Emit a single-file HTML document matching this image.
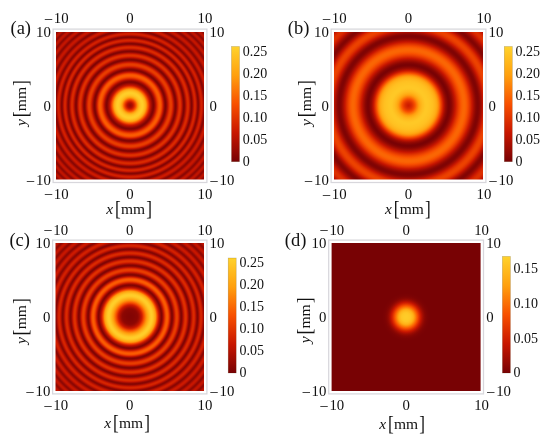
<!DOCTYPE html>
<html lang="en">
<head>
<meta charset="utf-8">
<title>Intensity distributions (a)-(d)</title>
<style>
html,body{margin:0;padding:0;background:#fff;}
body{width:550px;height:442px;overflow:hidden;}
svg{display:block;}
svg text{font-family:"Liberation Serif","Times New Roman",serif;fill:#111;}
</style>
</head>
<body>
<svg width="550" height="442" viewBox="0 0 550 442">
<defs>
<filter id="soft" color-interpolation-filters="sRGB" x="-5%" y="-5%" width="110%" height="110%"><feGaussianBlur stdDeviation="0.55"/></filter>
<radialGradient id="ga" gradientUnits="userSpaceOnUse" cx="130.00" cy="105.40" r="110.00"><stop offset="0.0000" stop-color="#980a02"/><stop offset="0.0045" stop-color="#990a02"/><stop offset="0.0091" stop-color="#9d0b02"/><stop offset="0.0136" stop-color="#a20d02"/><stop offset="0.0182" stop-color="#a80e02"/><stop offset="0.0227" stop-color="#b01001"/><stop offset="0.0273" stop-color="#bc1301"/><stop offset="0.0318" stop-color="#c91700"/><stop offset="0.0364" stop-color="#d22200"/><stop offset="0.0409" stop-color="#db2d00"/><stop offset="0.0455" stop-color="#e53a00"/><stop offset="0.0500" stop-color="#f14700"/><stop offset="0.0545" stop-color="#f95601"/><stop offset="0.0591" stop-color="#fa6a05"/><stop offset="0.0636" stop-color="#fc7e08"/><stop offset="0.0682" stop-color="#fe920c"/><stop offset="0.0727" stop-color="#ffa20f"/><stop offset="0.0773" stop-color="#ffac15"/><stop offset="0.0818" stop-color="#ffb51a"/><stop offset="0.0864" stop-color="#ffbd1f"/><stop offset="0.0909" stop-color="#ffc222"/><stop offset="0.0955" stop-color="#ffc625"/><stop offset="0.1000" stop-color="#ffc927"/><stop offset="0.1045" stop-color="#ffcc28"/><stop offset="0.1091" stop-color="#ffce29"/><stop offset="0.1136" stop-color="#ffce29"/><stop offset="0.1182" stop-color="#ffcc28"/><stop offset="0.1227" stop-color="#ffc826"/><stop offset="0.1273" stop-color="#ffc323"/><stop offset="0.1318" stop-color="#ffbd1f"/><stop offset="0.1364" stop-color="#ffb71c"/><stop offset="0.1409" stop-color="#ffaf17"/><stop offset="0.1455" stop-color="#ffa511"/><stop offset="0.1500" stop-color="#fe940c"/><stop offset="0.1545" stop-color="#fc7e08"/><stop offset="0.1591" stop-color="#fa6804"/><stop offset="0.1636" stop-color="#f85401"/><stop offset="0.1682" stop-color="#ed4300"/><stop offset="0.1727" stop-color="#df3200"/><stop offset="0.1773" stop-color="#d32300"/><stop offset="0.1818" stop-color="#c81600"/><stop offset="0.1864" stop-color="#b91201"/><stop offset="0.1909" stop-color="#ac0f01"/><stop offset="0.1955" stop-color="#9f0c02"/><stop offset="0.2000" stop-color="#940903"/><stop offset="0.2045" stop-color="#8a0603"/><stop offset="0.2091" stop-color="#820503"/><stop offset="0.2136" stop-color="#7f0404"/><stop offset="0.2182" stop-color="#860603"/><stop offset="0.2227" stop-color="#910803"/><stop offset="0.2273" stop-color="#a00c02"/><stop offset="0.2318" stop-color="#b01001"/><stop offset="0.2364" stop-color="#c31500"/><stop offset="0.2409" stop-color="#d02000"/><stop offset="0.2455" stop-color="#db2d00"/><stop offset="0.2500" stop-color="#e53900"/><stop offset="0.2545" stop-color="#ee4400"/><stop offset="0.2591" stop-color="#f64d00"/><stop offset="0.2636" stop-color="#f85501"/><stop offset="0.2682" stop-color="#f95b02"/><stop offset="0.2727" stop-color="#f95d02"/><stop offset="0.2773" stop-color="#f95a02"/><stop offset="0.2818" stop-color="#f85100"/><stop offset="0.2864" stop-color="#f14700"/><stop offset="0.2909" stop-color="#e63a00"/><stop offset="0.2955" stop-color="#d92b00"/><stop offset="0.3000" stop-color="#cc1b00"/><stop offset="0.3045" stop-color="#b81201"/><stop offset="0.3091" stop-color="#a20d02"/><stop offset="0.3136" stop-color="#910803"/><stop offset="0.3182" stop-color="#840503"/><stop offset="0.3227" stop-color="#7e0404"/><stop offset="0.3273" stop-color="#840503"/><stop offset="0.3318" stop-color="#8f0803"/><stop offset="0.3364" stop-color="#9e0b02"/><stop offset="0.3409" stop-color="#ae1001"/><stop offset="0.3455" stop-color="#c01400"/><stop offset="0.3500" stop-color="#ce1d00"/><stop offset="0.3545" stop-color="#d72800"/><stop offset="0.3591" stop-color="#df3200"/><stop offset="0.3636" stop-color="#e53900"/><stop offset="0.3682" stop-color="#e83d00"/><stop offset="0.3727" stop-color="#e83d00"/><stop offset="0.3773" stop-color="#e63a00"/><stop offset="0.3818" stop-color="#df3200"/><stop offset="0.3864" stop-color="#d72800"/><stop offset="0.3909" stop-color="#cc1a00"/><stop offset="0.3955" stop-color="#ba1301"/><stop offset="0.4000" stop-color="#a60e02"/><stop offset="0.4045" stop-color="#940903"/><stop offset="0.4091" stop-color="#860603"/><stop offset="0.4136" stop-color="#7f0404"/><stop offset="0.4182" stop-color="#830503"/><stop offset="0.4227" stop-color="#8e0803"/><stop offset="0.4273" stop-color="#9f0c02"/><stop offset="0.4318" stop-color="#b21001"/><stop offset="0.4364" stop-color="#c51500"/><stop offset="0.4409" stop-color="#d02000"/><stop offset="0.4455" stop-color="#d82a00"/><stop offset="0.4500" stop-color="#dd3000"/><stop offset="0.4545" stop-color="#df3200"/><stop offset="0.4591" stop-color="#dd2f00"/><stop offset="0.4636" stop-color="#d62700"/><stop offset="0.4682" stop-color="#cd1c00"/><stop offset="0.4727" stop-color="#bc1301"/><stop offset="0.4773" stop-color="#a70e02"/><stop offset="0.4818" stop-color="#940903"/><stop offset="0.4864" stop-color="#850503"/><stop offset="0.4909" stop-color="#7e0404"/><stop offset="0.4955" stop-color="#850503"/><stop offset="0.5000" stop-color="#930903"/><stop offset="0.5045" stop-color="#a50d02"/><stop offset="0.5091" stop-color="#b81201"/><stop offset="0.5136" stop-color="#c91800"/><stop offset="0.5182" stop-color="#d22200"/><stop offset="0.5227" stop-color="#d82900"/><stop offset="0.5273" stop-color="#d92b00"/><stop offset="0.5318" stop-color="#d72800"/><stop offset="0.5364" stop-color="#d01f00"/><stop offset="0.5409" stop-color="#c41500"/><stop offset="0.5455" stop-color="#b01001"/><stop offset="0.5500" stop-color="#9c0b02"/><stop offset="0.5545" stop-color="#8b0703"/><stop offset="0.5591" stop-color="#810404"/><stop offset="0.5636" stop-color="#840503"/><stop offset="0.5682" stop-color="#930903"/><stop offset="0.5727" stop-color="#a60e02"/><stop offset="0.5773" stop-color="#bb1301"/><stop offset="0.5818" stop-color="#cb1a00"/><stop offset="0.5864" stop-color="#d32300"/><stop offset="0.5909" stop-color="#d52600"/><stop offset="0.5955" stop-color="#d32300"/><stop offset="0.6000" stop-color="#cb1900"/><stop offset="0.6045" stop-color="#ba1201"/><stop offset="0.6091" stop-color="#a40d02"/><stop offset="0.6136" stop-color="#910803"/><stop offset="0.6182" stop-color="#840503"/><stop offset="0.6227" stop-color="#860503"/><stop offset="0.6273" stop-color="#920903"/><stop offset="0.6318" stop-color="#a40d02"/><stop offset="0.6364" stop-color="#b71201"/><stop offset="0.6409" stop-color="#c81600"/><stop offset="0.6455" stop-color="#cf1e00"/><stop offset="0.6500" stop-color="#d22200"/><stop offset="0.6545" stop-color="#cf1f00"/><stop offset="0.6591" stop-color="#c81600"/><stop offset="0.6636" stop-color="#b71201"/><stop offset="0.6682" stop-color="#a40d02"/><stop offset="0.6727" stop-color="#920903"/><stop offset="0.6773" stop-color="#870603"/><stop offset="0.6818" stop-color="#880603"/><stop offset="0.6864" stop-color="#930903"/><stop offset="0.6909" stop-color="#a30d02"/><stop offset="0.6955" stop-color="#b31101"/><stop offset="0.7000" stop-color="#c21400"/><stop offset="0.7045" stop-color="#ca1800"/><stop offset="0.7091" stop-color="#cc1b00"/><stop offset="0.7136" stop-color="#c91800"/><stop offset="0.7182" stop-color="#bf1400"/><stop offset="0.7227" stop-color="#b01001"/><stop offset="0.7273" stop-color="#9f0c02"/><stop offset="0.7318" stop-color="#910803"/><stop offset="0.7364" stop-color="#880603"/><stop offset="0.7409" stop-color="#8c0703"/><stop offset="0.7455" stop-color="#960a02"/><stop offset="0.7500" stop-color="#a50d02"/><stop offset="0.7545" stop-color="#b31101"/><stop offset="0.7591" stop-color="#bf1400"/><stop offset="0.7636" stop-color="#c61600"/><stop offset="0.7682" stop-color="#c81600"/><stop offset="0.7727" stop-color="#c31500"/><stop offset="0.7773" stop-color="#b81201"/><stop offset="0.7818" stop-color="#aa0f01"/><stop offset="0.7864" stop-color="#9c0b02"/><stop offset="0.7909" stop-color="#900803"/><stop offset="0.7955" stop-color="#8a0703"/><stop offset="0.8000" stop-color="#900803"/><stop offset="0.8045" stop-color="#9d0b02"/><stop offset="0.8091" stop-color="#ac0f01"/><stop offset="0.8136" stop-color="#ba1201"/><stop offset="0.8182" stop-color="#c31500"/><stop offset="0.8227" stop-color="#c51500"/><stop offset="0.8273" stop-color="#bf1400"/><stop offset="0.8318" stop-color="#b41101"/><stop offset="0.8364" stop-color="#a60d02"/><stop offset="0.8409" stop-color="#970a02"/><stop offset="0.8455" stop-color="#8e0703"/><stop offset="0.8500" stop-color="#8f0803"/><stop offset="0.8545" stop-color="#9a0b02"/><stop offset="0.8591" stop-color="#a90e02"/><stop offset="0.8636" stop-color="#b61201"/><stop offset="0.8682" stop-color="#bf1400"/><stop offset="0.8727" stop-color="#c11400"/><stop offset="0.8773" stop-color="#bc1301"/><stop offset="0.8818" stop-color="#b01001"/><stop offset="0.8864" stop-color="#a20c02"/><stop offset="0.8909" stop-color="#950903"/><stop offset="0.8955" stop-color="#8e0803"/><stop offset="0.9000" stop-color="#950903"/><stop offset="0.9045" stop-color="#a20d02"/><stop offset="0.9091" stop-color="#b01001"/><stop offset="0.9136" stop-color="#bb1301"/><stop offset="0.9182" stop-color="#be1400"/><stop offset="0.9227" stop-color="#ba1201"/><stop offset="0.9273" stop-color="#ae1001"/><stop offset="0.9318" stop-color="#a00c02"/><stop offset="0.9364" stop-color="#930903"/><stop offset="0.9409" stop-color="#8f0803"/><stop offset="0.9455" stop-color="#980a02"/><stop offset="0.9500" stop-color="#a60d02"/><stop offset="0.9545" stop-color="#b41101"/><stop offset="0.9591" stop-color="#bd1301"/><stop offset="0.9636" stop-color="#be1301"/><stop offset="0.9682" stop-color="#b61201"/><stop offset="0.9727" stop-color="#a90e02"/><stop offset="0.9773" stop-color="#9a0a02"/><stop offset="0.9818" stop-color="#900803"/><stop offset="0.9864" stop-color="#920803"/><stop offset="0.9909" stop-color="#9e0c02"/><stop offset="0.9955" stop-color="#ad0f01"/><stop offset="1.0000" stop-color="#b91201"/></radialGradient>
<linearGradient id="cba" gradientUnits="userSpaceOnUse" x1="0" y1="46.50" x2="0" y2="161.70"><stop offset="0.0000" stop-color="#ffd22c"/><stop offset="0.0417" stop-color="#ffca27"/><stop offset="0.0833" stop-color="#ffc122"/><stop offset="0.1250" stop-color="#ffb91d"/><stop offset="0.1667" stop-color="#ffb118"/><stop offset="0.2083" stop-color="#ffa813"/><stop offset="0.2500" stop-color="#ffa00e"/><stop offset="0.2917" stop-color="#fe930c"/><stop offset="0.3333" stop-color="#fd8509"/><stop offset="0.3750" stop-color="#fc7807"/><stop offset="0.4167" stop-color="#fa6b05"/><stop offset="0.4583" stop-color="#f95d02"/><stop offset="0.5000" stop-color="#f85000"/><stop offset="0.5417" stop-color="#f04600"/><stop offset="0.5833" stop-color="#e83d00"/><stop offset="0.6250" stop-color="#e03300"/><stop offset="0.6667" stop-color="#d82900"/><stop offset="0.7083" stop-color="#d02000"/><stop offset="0.7500" stop-color="#c81600"/><stop offset="0.7917" stop-color="#bb1301"/><stop offset="0.8333" stop-color="#ad0f01"/><stop offset="0.8750" stop-color="#a00c02"/><stop offset="0.9167" stop-color="#930903"/><stop offset="0.9583" stop-color="#850503"/><stop offset="1.0000" stop-color="#780204"/></linearGradient>
<radialGradient id="gb" gradientUnits="userSpaceOnUse" cx="408.50" cy="105.40" r="110.00"><stop offset="0.0000" stop-color="#cc1b00"/><stop offset="0.0045" stop-color="#cd1c00"/><stop offset="0.0091" stop-color="#cf1e00"/><stop offset="0.0136" stop-color="#d12100"/><stop offset="0.0182" stop-color="#d42400"/><stop offset="0.0227" stop-color="#d62700"/><stop offset="0.0273" stop-color="#d92b00"/><stop offset="0.0318" stop-color="#dd2f00"/><stop offset="0.0364" stop-color="#e13400"/><stop offset="0.0409" stop-color="#e53900"/><stop offset="0.0455" stop-color="#ea3f00"/><stop offset="0.0500" stop-color="#ef4500"/><stop offset="0.0545" stop-color="#f44b00"/><stop offset="0.0591" stop-color="#f85301"/><stop offset="0.0636" stop-color="#f95d02"/><stop offset="0.0682" stop-color="#fa6804"/><stop offset="0.0727" stop-color="#fb7306"/><stop offset="0.0773" stop-color="#fc7d08"/><stop offset="0.0818" stop-color="#fd860a"/><stop offset="0.0864" stop-color="#fe900b"/><stop offset="0.0909" stop-color="#fe990d"/><stop offset="0.0955" stop-color="#ffa10f"/><stop offset="0.1000" stop-color="#ffa612"/><stop offset="0.1045" stop-color="#ffaa14"/><stop offset="0.1091" stop-color="#ffaf17"/><stop offset="0.1136" stop-color="#ffb319"/><stop offset="0.1182" stop-color="#ffb61b"/><stop offset="0.1227" stop-color="#ffb91d"/><stop offset="0.1273" stop-color="#ffbc1f"/><stop offset="0.1318" stop-color="#ffbe20"/><stop offset="0.1364" stop-color="#ffc021"/><stop offset="0.1409" stop-color="#ffc223"/><stop offset="0.1455" stop-color="#ffc424"/><stop offset="0.1500" stop-color="#ffc625"/><stop offset="0.1545" stop-color="#ffc725"/><stop offset="0.1591" stop-color="#ffc826"/><stop offset="0.1636" stop-color="#ffc826"/><stop offset="0.1682" stop-color="#ffc826"/><stop offset="0.1727" stop-color="#ffc826"/><stop offset="0.1773" stop-color="#ffc726"/><stop offset="0.1818" stop-color="#ffc725"/><stop offset="0.1864" stop-color="#ffc625"/><stop offset="0.1909" stop-color="#ffc524"/><stop offset="0.1955" stop-color="#ffc524"/><stop offset="0.2000" stop-color="#ffc423"/><stop offset="0.2045" stop-color="#ffc323"/><stop offset="0.2091" stop-color="#ffc222"/><stop offset="0.2136" stop-color="#ffc122"/><stop offset="0.2182" stop-color="#ffc021"/><stop offset="0.2227" stop-color="#ffbe20"/><stop offset="0.2273" stop-color="#ffbc1f"/><stop offset="0.2318" stop-color="#ffba1e"/><stop offset="0.2364" stop-color="#ffb71c"/><stop offset="0.2409" stop-color="#ffb51b"/><stop offset="0.2455" stop-color="#ffb219"/><stop offset="0.2500" stop-color="#ffae17"/><stop offset="0.2545" stop-color="#ffaa14"/><stop offset="0.2591" stop-color="#ffa511"/><stop offset="0.2636" stop-color="#ff9e0e"/><stop offset="0.2682" stop-color="#fe940c"/><stop offset="0.2727" stop-color="#fd8a0a"/><stop offset="0.2773" stop-color="#fc7e08"/><stop offset="0.2818" stop-color="#fb7006"/><stop offset="0.2864" stop-color="#f96103"/><stop offset="0.2909" stop-color="#f85200"/><stop offset="0.2955" stop-color="#f04700"/><stop offset="0.3000" stop-color="#e83c00"/><stop offset="0.3045" stop-color="#df3200"/><stop offset="0.3091" stop-color="#d62700"/><stop offset="0.3136" stop-color="#ce1d00"/><stop offset="0.3182" stop-color="#c51500"/><stop offset="0.3227" stop-color="#b91201"/><stop offset="0.3273" stop-color="#ad0f01"/><stop offset="0.3318" stop-color="#a30d02"/><stop offset="0.3364" stop-color="#990a02"/><stop offset="0.3409" stop-color="#920803"/><stop offset="0.3455" stop-color="#8b0703"/><stop offset="0.3500" stop-color="#860503"/><stop offset="0.3545" stop-color="#800404"/><stop offset="0.3591" stop-color="#7c0304"/><stop offset="0.3636" stop-color="#790204"/><stop offset="0.3682" stop-color="#780204"/><stop offset="0.3727" stop-color="#7a0204"/><stop offset="0.3773" stop-color="#7c0304"/><stop offset="0.3818" stop-color="#800404"/><stop offset="0.3864" stop-color="#840503"/><stop offset="0.3909" stop-color="#8a0603"/><stop offset="0.3955" stop-color="#900803"/><stop offset="0.4000" stop-color="#970a02"/><stop offset="0.4045" stop-color="#9e0c02"/><stop offset="0.4091" stop-color="#a60e02"/><stop offset="0.4136" stop-color="#af1001"/><stop offset="0.4182" stop-color="#b71201"/><stop offset="0.4227" stop-color="#c01400"/><stop offset="0.4273" stop-color="#c91700"/><stop offset="0.4318" stop-color="#ce1e00"/><stop offset="0.4364" stop-color="#d42400"/><stop offset="0.4409" stop-color="#d92b00"/><stop offset="0.4455" stop-color="#de3100"/><stop offset="0.4500" stop-color="#e43700"/><stop offset="0.4545" stop-color="#e83d00"/><stop offset="0.4591" stop-color="#ed4300"/><stop offset="0.4636" stop-color="#f14800"/><stop offset="0.4682" stop-color="#f54d00"/><stop offset="0.4727" stop-color="#f85200"/><stop offset="0.4773" stop-color="#f95701"/><stop offset="0.4818" stop-color="#f95c02"/><stop offset="0.4864" stop-color="#f95f03"/><stop offset="0.4909" stop-color="#fa6203"/><stop offset="0.4955" stop-color="#fa6504"/><stop offset="0.5000" stop-color="#fa6604"/><stop offset="0.5045" stop-color="#fa6604"/><stop offset="0.5091" stop-color="#fa6604"/><stop offset="0.5136" stop-color="#fa6404"/><stop offset="0.5182" stop-color="#fa6203"/><stop offset="0.5227" stop-color="#f95e03"/><stop offset="0.5273" stop-color="#f95a02"/><stop offset="0.5318" stop-color="#f85501"/><stop offset="0.5364" stop-color="#f74f00"/><stop offset="0.5409" stop-color="#f34a00"/><stop offset="0.5455" stop-color="#ee4400"/><stop offset="0.5500" stop-color="#e93e00"/><stop offset="0.5545" stop-color="#e43800"/><stop offset="0.5591" stop-color="#df3100"/><stop offset="0.5636" stop-color="#d92b00"/><stop offset="0.5682" stop-color="#d32400"/><stop offset="0.5727" stop-color="#cd1d00"/><stop offset="0.5773" stop-color="#c71600"/><stop offset="0.5818" stop-color="#be1301"/><stop offset="0.5864" stop-color="#b51101"/><stop offset="0.5909" stop-color="#ac0f01"/><stop offset="0.5955" stop-color="#a30d02"/><stop offset="0.6000" stop-color="#9b0b02"/><stop offset="0.6045" stop-color="#940903"/><stop offset="0.6091" stop-color="#8e0703"/><stop offset="0.6136" stop-color="#880603"/><stop offset="0.6182" stop-color="#840503"/><stop offset="0.6227" stop-color="#810404"/><stop offset="0.6273" stop-color="#7f0404"/><stop offset="0.6318" stop-color="#7f0404"/><stop offset="0.6364" stop-color="#810404"/><stop offset="0.6409" stop-color="#840503"/><stop offset="0.6455" stop-color="#890603"/><stop offset="0.6500" stop-color="#8f0803"/><stop offset="0.6545" stop-color="#970a02"/><stop offset="0.6591" stop-color="#9f0c02"/><stop offset="0.6636" stop-color="#a70e02"/><stop offset="0.6682" stop-color="#b11001"/><stop offset="0.6727" stop-color="#ba1301"/><stop offset="0.6773" stop-color="#c41500"/><stop offset="0.6818" stop-color="#cb1a00"/><stop offset="0.6864" stop-color="#d12000"/><stop offset="0.6909" stop-color="#d62700"/><stop offset="0.6955" stop-color="#db2d00"/><stop offset="0.7000" stop-color="#df3200"/><stop offset="0.7045" stop-color="#e33700"/><stop offset="0.7091" stop-color="#e63b00"/><stop offset="0.7136" stop-color="#e93e00"/><stop offset="0.7182" stop-color="#eb4000"/><stop offset="0.7227" stop-color="#ec4200"/><stop offset="0.7273" stop-color="#ec4200"/><stop offset="0.7318" stop-color="#ec4200"/><stop offset="0.7364" stop-color="#eb4000"/><stop offset="0.7409" stop-color="#e93d00"/><stop offset="0.7455" stop-color="#e63a00"/><stop offset="0.7500" stop-color="#e23500"/><stop offset="0.7545" stop-color="#de3000"/><stop offset="0.7591" stop-color="#d92a00"/><stop offset="0.7636" stop-color="#d42400"/><stop offset="0.7682" stop-color="#ce1d00"/><stop offset="0.7727" stop-color="#c81600"/><stop offset="0.7773" stop-color="#be1301"/><stop offset="0.7818" stop-color="#b41101"/><stop offset="0.7864" stop-color="#aa0f01"/><stop offset="0.7909" stop-color="#a10c02"/><stop offset="0.7955" stop-color="#990a02"/><stop offset="0.8000" stop-color="#910803"/><stop offset="0.8045" stop-color="#8b0703"/><stop offset="0.8091" stop-color="#860603"/><stop offset="0.8136" stop-color="#830503"/><stop offset="0.8182" stop-color="#820404"/><stop offset="0.8227" stop-color="#830503"/><stop offset="0.8273" stop-color="#860503"/><stop offset="0.8318" stop-color="#8a0703"/><stop offset="0.8364" stop-color="#900803"/><stop offset="0.8409" stop-color="#960a02"/><stop offset="0.8455" stop-color="#9d0b02"/><stop offset="0.8500" stop-color="#a50d02"/><stop offset="0.8545" stop-color="#ae0f01"/><stop offset="0.8591" stop-color="#b61101"/><stop offset="0.8636" stop-color="#be1400"/><stop offset="0.8682" stop-color="#c71600"/><stop offset="0.8727" stop-color="#cc1b00"/><stop offset="0.8773" stop-color="#d02000"/><stop offset="0.8818" stop-color="#d42400"/><stop offset="0.8864" stop-color="#d72800"/><stop offset="0.8909" stop-color="#da2b00"/><stop offset="0.8955" stop-color="#dc2e00"/><stop offset="0.9000" stop-color="#dd2f00"/><stop offset="0.9045" stop-color="#dd3000"/><stop offset="0.9091" stop-color="#dd2f00"/><stop offset="0.9136" stop-color="#db2d00"/><stop offset="0.9182" stop-color="#d92a00"/><stop offset="0.9227" stop-color="#d62600"/><stop offset="0.9273" stop-color="#d22200"/><stop offset="0.9318" stop-color="#cd1c00"/><stop offset="0.9364" stop-color="#c81600"/><stop offset="0.9409" stop-color="#bf1400"/><stop offset="0.9455" stop-color="#b51101"/><stop offset="0.9500" stop-color="#ac0f01"/><stop offset="0.9545" stop-color="#a30d02"/><stop offset="0.9591" stop-color="#9a0b02"/><stop offset="0.9636" stop-color="#920903"/><stop offset="0.9682" stop-color="#8c0703"/><stop offset="0.9727" stop-color="#870603"/><stop offset="0.9773" stop-color="#830503"/><stop offset="0.9818" stop-color="#820404"/><stop offset="0.9864" stop-color="#830503"/><stop offset="0.9909" stop-color="#860603"/><stop offset="0.9955" stop-color="#8b0703"/><stop offset="1.0000" stop-color="#910803"/></radialGradient>
<linearGradient id="cbb" gradientUnits="userSpaceOnUse" x1="0" y1="46.50" x2="0" y2="161.70"><stop offset="0.0000" stop-color="#ffd22c"/><stop offset="0.0417" stop-color="#ffca27"/><stop offset="0.0833" stop-color="#ffc122"/><stop offset="0.1250" stop-color="#ffb91d"/><stop offset="0.1667" stop-color="#ffb118"/><stop offset="0.2083" stop-color="#ffa813"/><stop offset="0.2500" stop-color="#ffa00e"/><stop offset="0.2917" stop-color="#fe930c"/><stop offset="0.3333" stop-color="#fd8509"/><stop offset="0.3750" stop-color="#fc7807"/><stop offset="0.4167" stop-color="#fa6b05"/><stop offset="0.4583" stop-color="#f95d02"/><stop offset="0.5000" stop-color="#f85000"/><stop offset="0.5417" stop-color="#f04600"/><stop offset="0.5833" stop-color="#e83d00"/><stop offset="0.6250" stop-color="#e03300"/><stop offset="0.6667" stop-color="#d82900"/><stop offset="0.7083" stop-color="#d02000"/><stop offset="0.7500" stop-color="#c81600"/><stop offset="0.7917" stop-color="#bb1301"/><stop offset="0.8333" stop-color="#ad0f01"/><stop offset="0.8750" stop-color="#a00c02"/><stop offset="0.9167" stop-color="#930903"/><stop offset="0.9583" stop-color="#850503"/><stop offset="1.0000" stop-color="#780204"/></linearGradient>
<radialGradient id="gc" gradientUnits="userSpaceOnUse" cx="130.10" cy="316.70" r="110.00"><stop offset="0.0000" stop-color="#820404"/><stop offset="0.0045" stop-color="#820404"/><stop offset="0.0091" stop-color="#820404"/><stop offset="0.0136" stop-color="#820503"/><stop offset="0.0182" stop-color="#820503"/><stop offset="0.0227" stop-color="#830503"/><stop offset="0.0273" stop-color="#830503"/><stop offset="0.0318" stop-color="#840503"/><stop offset="0.0364" stop-color="#850503"/><stop offset="0.0409" stop-color="#860503"/><stop offset="0.0455" stop-color="#870603"/><stop offset="0.0500" stop-color="#880603"/><stop offset="0.0545" stop-color="#890603"/><stop offset="0.0591" stop-color="#8a0603"/><stop offset="0.0636" stop-color="#8b0703"/><stop offset="0.0682" stop-color="#8d0703"/><stop offset="0.0727" stop-color="#910803"/><stop offset="0.0773" stop-color="#970a02"/><stop offset="0.0818" stop-color="#9d0b02"/><stop offset="0.0864" stop-color="#a50d02"/><stop offset="0.0909" stop-color="#ad0f01"/><stop offset="0.0955" stop-color="#b71201"/><stop offset="0.1000" stop-color="#c01400"/><stop offset="0.1045" stop-color="#c91700"/><stop offset="0.1091" stop-color="#d12100"/><stop offset="0.1136" stop-color="#da2c00"/><stop offset="0.1182" stop-color="#e43800"/><stop offset="0.1227" stop-color="#ef4500"/><stop offset="0.1273" stop-color="#f85000"/><stop offset="0.1318" stop-color="#f95f03"/><stop offset="0.1364" stop-color="#fb6e05"/><stop offset="0.1409" stop-color="#fc7c08"/><stop offset="0.1455" stop-color="#fd8a0a"/><stop offset="0.1500" stop-color="#fe960c"/><stop offset="0.1545" stop-color="#ffa10e"/><stop offset="0.1591" stop-color="#ffa813"/><stop offset="0.1636" stop-color="#ffaf17"/><stop offset="0.1682" stop-color="#ffb61b"/><stop offset="0.1727" stop-color="#ffbc1f"/><stop offset="0.1773" stop-color="#ffc223"/><stop offset="0.1818" stop-color="#ffc726"/><stop offset="0.1864" stop-color="#ffcb28"/><stop offset="0.1909" stop-color="#ffcd29"/><stop offset="0.1955" stop-color="#ffce2a"/><stop offset="0.2000" stop-color="#ffcd29"/><stop offset="0.2045" stop-color="#ffc927"/><stop offset="0.2091" stop-color="#ffc524"/><stop offset="0.2136" stop-color="#ffbf20"/><stop offset="0.2182" stop-color="#ffb81c"/><stop offset="0.2227" stop-color="#ffb017"/><stop offset="0.2273" stop-color="#ffa712"/><stop offset="0.2318" stop-color="#ff9d0d"/><stop offset="0.2364" stop-color="#fd8609"/><stop offset="0.2409" stop-color="#fa6a05"/><stop offset="0.2455" stop-color="#f85000"/><stop offset="0.2500" stop-color="#ea3f00"/><stop offset="0.2545" stop-color="#db2d00"/><stop offset="0.2591" stop-color="#ce1d00"/><stop offset="0.2636" stop-color="#be1400"/><stop offset="0.2682" stop-color="#ae0f01"/><stop offset="0.2727" stop-color="#9f0c02"/><stop offset="0.2773" stop-color="#910803"/><stop offset="0.2818" stop-color="#850503"/><stop offset="0.2864" stop-color="#7f0404"/><stop offset="0.2909" stop-color="#870603"/><stop offset="0.2955" stop-color="#960903"/><stop offset="0.3000" stop-color="#a80e02"/><stop offset="0.3045" stop-color="#bd1301"/><stop offset="0.3091" stop-color="#ce1e00"/><stop offset="0.3136" stop-color="#db2e00"/><stop offset="0.3182" stop-color="#e73c00"/><stop offset="0.3227" stop-color="#f14800"/><stop offset="0.3273" stop-color="#f85200"/><stop offset="0.3318" stop-color="#f95a02"/><stop offset="0.3364" stop-color="#f95d02"/><stop offset="0.3409" stop-color="#f95902"/><stop offset="0.3455" stop-color="#f74f00"/><stop offset="0.3500" stop-color="#ed4300"/><stop offset="0.3545" stop-color="#e13400"/><stop offset="0.3591" stop-color="#d22200"/><stop offset="0.3636" stop-color="#bf1400"/><stop offset="0.3682" stop-color="#a70e02"/><stop offset="0.3727" stop-color="#920903"/><stop offset="0.3773" stop-color="#840503"/><stop offset="0.3818" stop-color="#7f0404"/><stop offset="0.3864" stop-color="#860603"/><stop offset="0.3909" stop-color="#930903"/><stop offset="0.3955" stop-color="#a50d02"/><stop offset="0.4000" stop-color="#b81201"/><stop offset="0.4045" stop-color="#ca1900"/><stop offset="0.4091" stop-color="#d52600"/><stop offset="0.4136" stop-color="#de3100"/><stop offset="0.4182" stop-color="#e53900"/><stop offset="0.4227" stop-color="#e83d00"/><stop offset="0.4273" stop-color="#e83d00"/><stop offset="0.4318" stop-color="#e43800"/><stop offset="0.4364" stop-color="#dd2f00"/><stop offset="0.4409" stop-color="#d32300"/><stop offset="0.4455" stop-color="#c51500"/><stop offset="0.4500" stop-color="#af1001"/><stop offset="0.4545" stop-color="#9b0b02"/><stop offset="0.4591" stop-color="#8a0703"/><stop offset="0.4636" stop-color="#800404"/><stop offset="0.4682" stop-color="#810404"/><stop offset="0.4727" stop-color="#8c0703"/><stop offset="0.4773" stop-color="#9c0b02"/><stop offset="0.4818" stop-color="#ae1001"/><stop offset="0.4864" stop-color="#c11400"/><stop offset="0.4909" stop-color="#cf1e00"/><stop offset="0.4955" stop-color="#d72800"/><stop offset="0.5000" stop-color="#dd2f00"/><stop offset="0.5045" stop-color="#df3200"/><stop offset="0.5091" stop-color="#dd3000"/><stop offset="0.5136" stop-color="#d82900"/><stop offset="0.5182" stop-color="#cf1e00"/><stop offset="0.5227" stop-color="#c01400"/><stop offset="0.5273" stop-color="#ab0f01"/><stop offset="0.5318" stop-color="#980a02"/><stop offset="0.5364" stop-color="#880603"/><stop offset="0.5409" stop-color="#7f0404"/><stop offset="0.5455" stop-color="#830503"/><stop offset="0.5500" stop-color="#900803"/><stop offset="0.5545" stop-color="#a10c02"/><stop offset="0.5591" stop-color="#b31101"/><stop offset="0.5636" stop-color="#c61500"/><stop offset="0.5682" stop-color="#d01f00"/><stop offset="0.5727" stop-color="#d62700"/><stop offset="0.5773" stop-color="#d92b00"/><stop offset="0.5818" stop-color="#d82900"/><stop offset="0.5864" stop-color="#d32300"/><stop offset="0.5909" stop-color="#ca1900"/><stop offset="0.5955" stop-color="#b91201"/><stop offset="0.6000" stop-color="#a60d02"/><stop offset="0.6045" stop-color="#940903"/><stop offset="0.6091" stop-color="#870603"/><stop offset="0.6136" stop-color="#830503"/><stop offset="0.6182" stop-color="#8b0703"/><stop offset="0.6227" stop-color="#9b0b02"/><stop offset="0.6273" stop-color="#ad0f01"/><stop offset="0.6318" stop-color="#c01400"/><stop offset="0.6364" stop-color="#cc1b00"/><stop offset="0.6409" stop-color="#d32300"/><stop offset="0.6455" stop-color="#d52600"/><stop offset="0.6500" stop-color="#d32400"/><stop offset="0.6545" stop-color="#cd1c00"/><stop offset="0.6591" stop-color="#c11400"/><stop offset="0.6636" stop-color="#ae0f01"/><stop offset="0.6682" stop-color="#9b0b02"/><stop offset="0.6727" stop-color="#8c0703"/><stop offset="0.6773" stop-color="#850503"/><stop offset="0.6818" stop-color="#8b0703"/><stop offset="0.6864" stop-color="#980a02"/><stop offset="0.6909" stop-color="#a80e02"/><stop offset="0.6955" stop-color="#b81201"/><stop offset="0.7000" stop-color="#c71600"/><stop offset="0.7045" stop-color="#ce1d00"/><stop offset="0.7091" stop-color="#d12100"/><stop offset="0.7136" stop-color="#d12100"/><stop offset="0.7182" stop-color="#cc1b00"/><stop offset="0.7227" stop-color="#c21500"/><stop offset="0.7273" stop-color="#b21101"/><stop offset="0.7318" stop-color="#a10c02"/><stop offset="0.7364" stop-color="#930903"/><stop offset="0.7409" stop-color="#890603"/><stop offset="0.7455" stop-color="#8a0703"/><stop offset="0.7500" stop-color="#940903"/><stop offset="0.7545" stop-color="#a20d02"/><stop offset="0.7591" stop-color="#b21001"/><stop offset="0.7636" stop-color="#c01400"/><stop offset="0.7682" stop-color="#c91700"/><stop offset="0.7727" stop-color="#cc1b00"/><stop offset="0.7773" stop-color="#cb1900"/><stop offset="0.7818" stop-color="#c51500"/><stop offset="0.7864" stop-color="#b81201"/><stop offset="0.7909" stop-color="#a90e02"/><stop offset="0.7955" stop-color="#9a0a02"/><stop offset="0.8000" stop-color="#8f0803"/><stop offset="0.8045" stop-color="#8b0703"/><stop offset="0.8091" stop-color="#920903"/><stop offset="0.8136" stop-color="#9e0c02"/><stop offset="0.8182" stop-color="#ad0f01"/><stop offset="0.8227" stop-color="#ba1201"/><stop offset="0.8273" stop-color="#c41500"/><stop offset="0.8318" stop-color="#c81600"/><stop offset="0.8364" stop-color="#c61600"/><stop offset="0.8409" stop-color="#be1400"/><stop offset="0.8455" stop-color="#b21101"/><stop offset="0.8500" stop-color="#a40d02"/><stop offset="0.8545" stop-color="#970a02"/><stop offset="0.8591" stop-color="#8e0803"/><stop offset="0.8636" stop-color="#8f0803"/><stop offset="0.8682" stop-color="#990a02"/><stop offset="0.8727" stop-color="#a70e02"/><stop offset="0.8773" stop-color="#b41101"/><stop offset="0.8818" stop-color="#bf1400"/><stop offset="0.8864" stop-color="#c41500"/><stop offset="0.8909" stop-color="#c41500"/><stop offset="0.8955" stop-color="#bc1301"/><stop offset="0.9000" stop-color="#b11001"/><stop offset="0.9045" stop-color="#a30d02"/><stop offset="0.9091" stop-color="#960a02"/><stop offset="0.9136" stop-color="#8f0803"/><stop offset="0.9182" stop-color="#920903"/><stop offset="0.9227" stop-color="#9d0b02"/><stop offset="0.9273" stop-color="#aa0e02"/><stop offset="0.9318" stop-color="#b61101"/><stop offset="0.9364" stop-color="#bf1400"/><stop offset="0.9409" stop-color="#c21400"/><stop offset="0.9455" stop-color="#be1400"/><stop offset="0.9500" stop-color="#b51101"/><stop offset="0.9545" stop-color="#a80e02"/><stop offset="0.9591" stop-color="#9b0b02"/><stop offset="0.9636" stop-color="#910803"/><stop offset="0.9682" stop-color="#900803"/><stop offset="0.9727" stop-color="#980a02"/><stop offset="0.9773" stop-color="#a40d02"/><stop offset="0.9818" stop-color="#b11001"/><stop offset="0.9864" stop-color="#ba1301"/><stop offset="0.9909" stop-color="#be1400"/><stop offset="0.9955" stop-color="#bc1301"/><stop offset="1.0000" stop-color="#b41101"/></radialGradient>
<linearGradient id="cbc" gradientUnits="userSpaceOnUse" x1="0" y1="258.00" x2="0" y2="373.00"><stop offset="0.0000" stop-color="#ffd22c"/><stop offset="0.0417" stop-color="#ffca27"/><stop offset="0.0833" stop-color="#ffc122"/><stop offset="0.1250" stop-color="#ffb91d"/><stop offset="0.1667" stop-color="#ffb118"/><stop offset="0.2083" stop-color="#ffa813"/><stop offset="0.2500" stop-color="#ffa00e"/><stop offset="0.2917" stop-color="#fe930c"/><stop offset="0.3333" stop-color="#fd8509"/><stop offset="0.3750" stop-color="#fc7807"/><stop offset="0.4167" stop-color="#fa6b05"/><stop offset="0.4583" stop-color="#f95d02"/><stop offset="0.5000" stop-color="#f85000"/><stop offset="0.5417" stop-color="#f04600"/><stop offset="0.5833" stop-color="#e83d00"/><stop offset="0.6250" stop-color="#e03300"/><stop offset="0.6667" stop-color="#d82900"/><stop offset="0.7083" stop-color="#d02000"/><stop offset="0.7500" stop-color="#c81600"/><stop offset="0.7917" stop-color="#bb1301"/><stop offset="0.8333" stop-color="#ad0f01"/><stop offset="0.8750" stop-color="#a00c02"/><stop offset="0.9167" stop-color="#930903"/><stop offset="0.9583" stop-color="#850503"/><stop offset="1.0000" stop-color="#780204"/></linearGradient>
<radialGradient id="gd" gradientUnits="userSpaceOnUse" cx="406.10" cy="317.10" r="110.00"><stop offset="0.0000" stop-color="#ffcc28"/><stop offset="0.0045" stop-color="#ffcc28"/><stop offset="0.0091" stop-color="#ffcc28"/><stop offset="0.0136" stop-color="#ffcb28"/><stop offset="0.0182" stop-color="#ffcb28"/><stop offset="0.0227" stop-color="#ffca27"/><stop offset="0.0273" stop-color="#ffc927"/><stop offset="0.0318" stop-color="#ffc826"/><stop offset="0.0364" stop-color="#ffc725"/><stop offset="0.0409" stop-color="#ffc524"/><stop offset="0.0455" stop-color="#ffc222"/><stop offset="0.0500" stop-color="#ffbe20"/><stop offset="0.0545" stop-color="#ffbb1e"/><stop offset="0.0591" stop-color="#ffb71c"/><stop offset="0.0636" stop-color="#ffb219"/><stop offset="0.0682" stop-color="#ffac15"/><stop offset="0.0727" stop-color="#ffa410"/><stop offset="0.0773" stop-color="#fe990d"/><stop offset="0.0818" stop-color="#fd8d0b"/><stop offset="0.0864" stop-color="#fc8109"/><stop offset="0.0909" stop-color="#fb7506"/><stop offset="0.0955" stop-color="#fa6904"/><stop offset="0.1000" stop-color="#f95c02"/><stop offset="0.1045" stop-color="#f85000"/><stop offset="0.1091" stop-color="#f04700"/><stop offset="0.1136" stop-color="#e83d00"/><stop offset="0.1182" stop-color="#e13400"/><stop offset="0.1227" stop-color="#d92b00"/><stop offset="0.1273" stop-color="#d22300"/><stop offset="0.1318" stop-color="#cc1b00"/><stop offset="0.1364" stop-color="#c41500"/><stop offset="0.1409" stop-color="#ba1201"/><stop offset="0.1455" stop-color="#b01001"/><stop offset="0.1500" stop-color="#a70e02"/><stop offset="0.1545" stop-color="#9f0c02"/><stop offset="0.1591" stop-color="#980a02"/><stop offset="0.1636" stop-color="#920903"/><stop offset="0.1682" stop-color="#8d0703"/><stop offset="0.1727" stop-color="#880603"/><stop offset="0.1773" stop-color="#850503"/><stop offset="0.1818" stop-color="#820503"/><stop offset="0.1864" stop-color="#800404"/><stop offset="0.1909" stop-color="#7e0304"/><stop offset="0.1955" stop-color="#7c0304"/><stop offset="0.2000" stop-color="#7b0304"/><stop offset="0.2045" stop-color="#7a0304"/><stop offset="0.2091" stop-color="#7a0204"/><stop offset="0.2136" stop-color="#790204"/><stop offset="0.2182" stop-color="#780204"/><stop offset="0.2227" stop-color="#780204"/><stop offset="0.2273" stop-color="#780204"/><stop offset="0.2318" stop-color="#780204"/><stop offset="0.2364" stop-color="#780204"/><stop offset="0.2409" stop-color="#780204"/><stop offset="0.2455" stop-color="#780204"/><stop offset="0.2500" stop-color="#780204"/><stop offset="0.2545" stop-color="#780204"/><stop offset="0.2591" stop-color="#780204"/><stop offset="0.2636" stop-color="#780204"/><stop offset="0.2682" stop-color="#780204"/><stop offset="0.2727" stop-color="#780204"/><stop offset="0.2773" stop-color="#780204"/><stop offset="0.2818" stop-color="#780204"/><stop offset="0.2864" stop-color="#780204"/><stop offset="0.2909" stop-color="#780204"/><stop offset="0.2955" stop-color="#780204"/><stop offset="0.3000" stop-color="#780204"/><stop offset="0.3045" stop-color="#780204"/><stop offset="0.3091" stop-color="#780204"/><stop offset="0.3136" stop-color="#780204"/><stop offset="0.3182" stop-color="#780204"/><stop offset="0.3227" stop-color="#780204"/><stop offset="0.3273" stop-color="#780204"/><stop offset="0.3318" stop-color="#780204"/><stop offset="0.3364" stop-color="#780204"/><stop offset="0.3409" stop-color="#780204"/><stop offset="0.3455" stop-color="#780204"/><stop offset="0.3500" stop-color="#780204"/><stop offset="0.3545" stop-color="#780204"/><stop offset="0.3591" stop-color="#780204"/><stop offset="0.3636" stop-color="#780204"/><stop offset="0.3682" stop-color="#780204"/><stop offset="0.3727" stop-color="#780204"/><stop offset="0.3773" stop-color="#780204"/><stop offset="0.3818" stop-color="#780204"/><stop offset="0.3864" stop-color="#780204"/><stop offset="0.3909" stop-color="#780204"/><stop offset="0.3955" stop-color="#780204"/><stop offset="0.4000" stop-color="#780204"/><stop offset="0.4045" stop-color="#780204"/><stop offset="0.4091" stop-color="#780204"/><stop offset="0.4136" stop-color="#780204"/><stop offset="0.4182" stop-color="#780204"/><stop offset="0.4227" stop-color="#780204"/><stop offset="0.4273" stop-color="#780204"/><stop offset="0.4318" stop-color="#780204"/><stop offset="0.4364" stop-color="#780204"/><stop offset="0.4409" stop-color="#780204"/><stop offset="0.4455" stop-color="#780204"/><stop offset="0.4500" stop-color="#780204"/><stop offset="0.4545" stop-color="#780204"/><stop offset="0.4591" stop-color="#780204"/><stop offset="0.4636" stop-color="#780204"/><stop offset="0.4682" stop-color="#780204"/><stop offset="0.4727" stop-color="#780204"/><stop offset="0.4773" stop-color="#780204"/><stop offset="0.4818" stop-color="#780204"/><stop offset="0.4864" stop-color="#780204"/><stop offset="0.4909" stop-color="#780204"/><stop offset="0.4955" stop-color="#780204"/><stop offset="0.5000" stop-color="#780204"/><stop offset="0.5045" stop-color="#780204"/><stop offset="0.5091" stop-color="#780204"/><stop offset="0.5136" stop-color="#780204"/><stop offset="0.5182" stop-color="#780204"/><stop offset="0.5227" stop-color="#780204"/><stop offset="0.5273" stop-color="#780204"/><stop offset="0.5318" stop-color="#780204"/><stop offset="0.5364" stop-color="#780204"/><stop offset="0.5409" stop-color="#780204"/><stop offset="0.5455" stop-color="#780204"/><stop offset="0.5500" stop-color="#780204"/><stop offset="0.5545" stop-color="#780204"/><stop offset="0.5591" stop-color="#780204"/><stop offset="0.5636" stop-color="#780204"/><stop offset="0.5682" stop-color="#780204"/><stop offset="0.5727" stop-color="#780204"/><stop offset="0.5773" stop-color="#780204"/><stop offset="0.5818" stop-color="#780204"/><stop offset="0.5864" stop-color="#780204"/><stop offset="0.5909" stop-color="#780204"/><stop offset="0.5955" stop-color="#780204"/><stop offset="0.6000" stop-color="#780204"/><stop offset="0.6045" stop-color="#780204"/><stop offset="0.6091" stop-color="#780204"/><stop offset="0.6136" stop-color="#780204"/><stop offset="0.6182" stop-color="#780204"/><stop offset="0.6227" stop-color="#780204"/><stop offset="0.6273" stop-color="#780204"/><stop offset="0.6318" stop-color="#780204"/><stop offset="0.6364" stop-color="#780204"/><stop offset="0.6409" stop-color="#780204"/><stop offset="0.6455" stop-color="#780204"/><stop offset="0.6500" stop-color="#780204"/><stop offset="0.6545" stop-color="#780204"/><stop offset="0.6591" stop-color="#780204"/><stop offset="0.6636" stop-color="#780204"/><stop offset="0.6682" stop-color="#780204"/><stop offset="0.6727" stop-color="#780204"/><stop offset="0.6773" stop-color="#780204"/><stop offset="0.6818" stop-color="#780204"/><stop offset="0.6864" stop-color="#780204"/><stop offset="0.6909" stop-color="#780204"/><stop offset="0.6955" stop-color="#780204"/><stop offset="0.7000" stop-color="#780204"/><stop offset="0.7045" stop-color="#780204"/><stop offset="0.7091" stop-color="#780204"/><stop offset="0.7136" stop-color="#780204"/><stop offset="0.7182" stop-color="#780204"/><stop offset="0.7227" stop-color="#780204"/><stop offset="0.7273" stop-color="#780204"/><stop offset="0.7318" stop-color="#780204"/><stop offset="0.7364" stop-color="#780204"/><stop offset="0.7409" stop-color="#780204"/><stop offset="0.7455" stop-color="#780204"/><stop offset="0.7500" stop-color="#780204"/><stop offset="0.7545" stop-color="#780204"/><stop offset="0.7591" stop-color="#780204"/><stop offset="0.7636" stop-color="#780204"/><stop offset="0.7682" stop-color="#780204"/><stop offset="0.7727" stop-color="#780204"/><stop offset="0.7773" stop-color="#780204"/><stop offset="0.7818" stop-color="#780204"/><stop offset="0.7864" stop-color="#780204"/><stop offset="0.7909" stop-color="#780204"/><stop offset="0.7955" stop-color="#780204"/><stop offset="0.8000" stop-color="#780204"/><stop offset="0.8045" stop-color="#780204"/><stop offset="0.8091" stop-color="#780204"/><stop offset="0.8136" stop-color="#780204"/><stop offset="0.8182" stop-color="#780204"/><stop offset="0.8227" stop-color="#780204"/><stop offset="0.8273" stop-color="#780204"/><stop offset="0.8318" stop-color="#780204"/><stop offset="0.8364" stop-color="#780204"/><stop offset="0.8409" stop-color="#780204"/><stop offset="0.8455" stop-color="#780204"/><stop offset="0.8500" stop-color="#780204"/><stop offset="0.8545" stop-color="#780204"/><stop offset="0.8591" stop-color="#780204"/><stop offset="0.8636" stop-color="#780204"/><stop offset="0.8682" stop-color="#780204"/><stop offset="0.8727" stop-color="#780204"/><stop offset="0.8773" stop-color="#780204"/><stop offset="0.8818" stop-color="#780204"/><stop offset="0.8864" stop-color="#780204"/><stop offset="0.8909" stop-color="#780204"/><stop offset="0.8955" stop-color="#780204"/><stop offset="0.9000" stop-color="#780204"/><stop offset="0.9045" stop-color="#780204"/><stop offset="0.9091" stop-color="#780204"/><stop offset="0.9136" stop-color="#780204"/><stop offset="0.9182" stop-color="#780204"/><stop offset="0.9227" stop-color="#780204"/><stop offset="0.9273" stop-color="#780204"/><stop offset="0.9318" stop-color="#780204"/><stop offset="0.9364" stop-color="#780204"/><stop offset="0.9409" stop-color="#780204"/><stop offset="0.9455" stop-color="#780204"/><stop offset="0.9500" stop-color="#780204"/><stop offset="0.9545" stop-color="#780204"/><stop offset="0.9591" stop-color="#780204"/><stop offset="0.9636" stop-color="#780204"/><stop offset="0.9682" stop-color="#780204"/><stop offset="0.9727" stop-color="#780204"/><stop offset="0.9773" stop-color="#780204"/><stop offset="0.9818" stop-color="#780204"/><stop offset="0.9864" stop-color="#780204"/><stop offset="0.9909" stop-color="#780204"/><stop offset="0.9955" stop-color="#780204"/><stop offset="1.0000" stop-color="#780204"/></radialGradient>
<linearGradient id="cbd" gradientUnits="userSpaceOnUse" x1="0" y1="256.40" x2="0" y2="373.00"><stop offset="0.0000" stop-color="#ffd22c"/><stop offset="0.0417" stop-color="#ffca27"/><stop offset="0.0833" stop-color="#ffc122"/><stop offset="0.1250" stop-color="#ffb91d"/><stop offset="0.1667" stop-color="#ffb118"/><stop offset="0.2083" stop-color="#ffa813"/><stop offset="0.2500" stop-color="#ffa00e"/><stop offset="0.2917" stop-color="#fe930c"/><stop offset="0.3333" stop-color="#fd8509"/><stop offset="0.3750" stop-color="#fc7807"/><stop offset="0.4167" stop-color="#fa6b05"/><stop offset="0.4583" stop-color="#f95d02"/><stop offset="0.5000" stop-color="#f85000"/><stop offset="0.5417" stop-color="#f04600"/><stop offset="0.5833" stop-color="#e83d00"/><stop offset="0.6250" stop-color="#e03300"/><stop offset="0.6667" stop-color="#d82900"/><stop offset="0.7083" stop-color="#d02000"/><stop offset="0.7500" stop-color="#c81600"/><stop offset="0.7917" stop-color="#bb1301"/><stop offset="0.8333" stop-color="#ad0f01"/><stop offset="0.8750" stop-color="#a00c02"/><stop offset="0.9167" stop-color="#930903"/><stop offset="0.9583" stop-color="#850503"/><stop offset="1.0000" stop-color="#780204"/></linearGradient>
</defs>
<rect x="0" y="0" width="550" height="442" fill="#ffffff"/>
<g><rect x="53.10" y="29.10" width="153.80" height="153.40" fill="#fff" stroke="#d8d7dc" stroke-width="1.25"/>
<clipPath id="cla"><rect x="56.00" y="32.00" width="148.00" height="147.60"/></clipPath>
<g clip-path="url(#cla)"><rect x="52.00" y="28.00" width="156.00" height="155.60" fill="url(#ga)" filter="url(#soft)"/></g>
<text x="56.30" y="22.60" font-size="14.80" text-anchor="middle"><tspan font-size="16.0" dy="1.9">−</tspan><tspan dy="-1.9" dx="0.9">10</tspan></text>
<text x="130.00" y="22.60" font-size="14.80" text-anchor="middle">0</text>
<text x="205.00" y="22.60" font-size="14.80" text-anchor="middle">10</text>
<text x="56.30" y="198.50" font-size="14.80" text-anchor="middle"><tspan font-size="16.0" dy="1.9">−</tspan><tspan dy="-1.9" dx="0.9">10</tspan></text>
<text x="130.00" y="198.50" font-size="14.80" text-anchor="middle">0</text>
<text x="205.00" y="198.50" font-size="14.80" text-anchor="middle">10</text>
<text x="50.80" y="37.15" font-size="14.80" text-anchor="end">10</text>
<text x="50.80" y="111.05" font-size="14.80" text-anchor="end">0</text>
<text x="50.80" y="185.05" font-size="14.80" text-anchor="end"><tspan font-size="16.0" dy="1.9">−</tspan><tspan dy="-1.9" dx="0.9">10</tspan></text>
<text x="209.60" y="37.15" font-size="14.80" text-anchor="start">10</text>
<text x="209.60" y="111.05" font-size="14.80" text-anchor="start">0</text>
<text x="209.60" y="185.05" font-size="14.80" text-anchor="start"><tspan font-size="16.0" dy="1.9">−</tspan><tspan dy="-1.9" dx="0.9">10</tspan></text>
<g transform="translate(128.50 213.70)" font-size="15.50"><text x="-22.3" y="0" font-style="italic">x</text><text transform="translate(-13.6 1.1) scale(0.80 1)" font-size="21.60">[</text><text x="4.5" y="0" text-anchor="middle">mm</text><text transform="translate(17.7 1.1) scale(0.80 1)" font-size="21.60">]</text></g>
<g transform="translate(25.80 103.60) rotate(-90)" font-size="15.50"><text x="-22.3" y="0" font-style="italic">y</text><text transform="translate(-13.6 1.1) scale(0.80 1)" font-size="21.60">[</text><text x="4.5" y="0" text-anchor="middle">mm</text><text transform="translate(17.7 1.1) scale(0.80 1)" font-size="21.60">]</text></g>
<text x="10.50" y="34.40" font-size="18.50" text-anchor="start">(a)</text>
<rect x="231.50" y="46.50" width="8.00" height="115.20" fill="url(#cba)" stroke="#3a2a00" stroke-opacity="0.28" stroke-width="0.6"/>
<text x="242.70" y="55.99" font-size="14.00" text-anchor="start">0.25</text>
<text x="242.70" y="78.05" font-size="14.00" text-anchor="start">0.20</text>
<text x="242.70" y="100.10" font-size="14.00" text-anchor="start">0.15</text>
<text x="242.70" y="122.16" font-size="14.00" text-anchor="start">0.10</text>
<text x="242.70" y="144.22" font-size="14.00" text-anchor="start">0.05</text>
<text x="242.70" y="166.28" font-size="14.00" text-anchor="start">0</text></g>
<g><rect x="331.10" y="29.10" width="154.80" height="153.40" fill="#fff" stroke="#d8d7dc" stroke-width="1.25"/>
<clipPath id="clb"><rect x="334.00" y="32.00" width="149.00" height="147.60"/></clipPath>
<g clip-path="url(#clb)"><rect x="330.00" y="28.00" width="157.00" height="155.60" fill="url(#gb)" filter="url(#soft)"/></g>
<text x="334.30" y="22.60" font-size="14.80" text-anchor="middle"><tspan font-size="16.0" dy="1.9">−</tspan><tspan dy="-1.9" dx="0.9">10</tspan></text>
<text x="408.50" y="22.60" font-size="14.80" text-anchor="middle">0</text>
<text x="484.00" y="22.60" font-size="14.80" text-anchor="middle">10</text>
<text x="334.30" y="198.80" font-size="14.80" text-anchor="middle"><tspan font-size="16.0" dy="1.9">−</tspan><tspan dy="-1.9" dx="0.9">10</tspan></text>
<text x="408.50" y="198.80" font-size="14.80" text-anchor="middle">0</text>
<text x="484.00" y="198.80" font-size="14.80" text-anchor="middle">10</text>
<text x="328.80" y="37.15" font-size="14.80" text-anchor="end">10</text>
<text x="328.80" y="111.05" font-size="14.80" text-anchor="end">0</text>
<text x="328.80" y="185.05" font-size="14.80" text-anchor="end"><tspan font-size="16.0" dy="1.9">−</tspan><tspan dy="-1.9" dx="0.9">10</tspan></text>
<text x="488.60" y="37.15" font-size="14.80" text-anchor="start">10</text>
<text x="488.60" y="111.05" font-size="14.80" text-anchor="start">0</text>
<text x="488.60" y="185.05" font-size="14.80" text-anchor="start"><tspan font-size="16.0" dy="1.9">−</tspan><tspan dy="-1.9" dx="0.9">10</tspan></text>
<g transform="translate(407.30 214.10)" font-size="15.50"><text x="-22.3" y="0" font-style="italic">x</text><text transform="translate(-13.6 1.1) scale(0.80 1)" font-size="21.60">[</text><text x="4.5" y="0" text-anchor="middle">mm</text><text transform="translate(17.7 1.1) scale(0.80 1)" font-size="21.60">]</text></g>
<g transform="translate(310.60 103.60) rotate(-90)" font-size="15.50"><text x="-22.3" y="0" font-style="italic">y</text><text transform="translate(-13.6 1.1) scale(0.80 1)" font-size="21.60">[</text><text x="4.5" y="0" text-anchor="middle">mm</text><text transform="translate(17.7 1.1) scale(0.80 1)" font-size="21.60">]</text></g>
<text x="287.80" y="34.40" font-size="18.50" text-anchor="start">(b)</text>
<rect x="504.30" y="46.50" width="8.00" height="115.20" fill="url(#cbb)" stroke="#3a2a00" stroke-opacity="0.28" stroke-width="0.6"/>
<text x="515.50" y="55.99" font-size="14.00" text-anchor="start">0.25</text>
<text x="515.50" y="78.05" font-size="14.00" text-anchor="start">0.20</text>
<text x="515.50" y="100.10" font-size="14.00" text-anchor="start">0.15</text>
<text x="515.50" y="122.16" font-size="14.00" text-anchor="start">0.10</text>
<text x="515.50" y="144.22" font-size="14.00" text-anchor="start">0.05</text>
<text x="515.50" y="166.28" font-size="14.00" text-anchor="start">0</text></g>
<g><rect x="52.60" y="240.10" width="154.30" height="153.80" fill="#fff" stroke="#d8d7dc" stroke-width="1.25"/>
<clipPath id="clc"><rect x="55.50" y="243.00" width="148.50" height="148.00"/></clipPath>
<g clip-path="url(#clc)"><rect x="51.50" y="239.00" width="156.50" height="156.00" fill="url(#gc)" filter="url(#soft)"/></g>
<text x="55.80" y="234.50" font-size="14.80" text-anchor="middle"><tspan font-size="16.0" dy="1.9">−</tspan><tspan dy="-1.9" dx="0.9">10</tspan></text>
<text x="129.75" y="234.50" font-size="14.80" text-anchor="middle">0</text>
<text x="205.00" y="234.50" font-size="14.80" text-anchor="middle">10</text>
<text x="55.80" y="409.90" font-size="14.80" text-anchor="middle"><tspan font-size="16.0" dy="1.9">−</tspan><tspan dy="-1.9" dx="0.9">10</tspan></text>
<text x="129.75" y="409.90" font-size="14.80" text-anchor="middle">0</text>
<text x="205.00" y="409.90" font-size="14.80" text-anchor="middle">10</text>
<text x="50.30" y="248.15" font-size="14.80" text-anchor="end">10</text>
<text x="50.30" y="322.25" font-size="14.80" text-anchor="end">0</text>
<text x="50.30" y="396.45" font-size="14.80" text-anchor="end"><tspan font-size="16.0" dy="1.9">−</tspan><tspan dy="-1.9" dx="0.9">10</tspan></text>
<text x="209.60" y="248.15" font-size="14.80" text-anchor="start">10</text>
<text x="209.60" y="322.25" font-size="14.80" text-anchor="start">0</text>
<text x="209.60" y="396.45" font-size="14.80" text-anchor="start"><tspan font-size="16.0" dy="1.9">−</tspan><tspan dy="-1.9" dx="0.9">10</tspan></text>
<g transform="translate(126.50 428.00)" font-size="15.50"><text x="-22.3" y="0" font-style="italic">x</text><text transform="translate(-13.6 1.1) scale(0.80 1)" font-size="21.60">[</text><text x="4.5" y="0" text-anchor="middle">mm</text><text transform="translate(17.7 1.1) scale(0.80 1)" font-size="21.60">]</text></g>
<g transform="translate(25.80 321.80) rotate(-90)" font-size="15.50"><text x="-22.3" y="0" font-style="italic">y</text><text transform="translate(-13.6 1.1) scale(0.80 1)" font-size="21.60">[</text><text x="4.5" y="0" text-anchor="middle">mm</text><text transform="translate(17.7 1.1) scale(0.80 1)" font-size="21.60">]</text></g>
<text x="9.40" y="245.60" font-size="18.50" text-anchor="start">(c)</text>
<rect x="228.20" y="258.00" width="8.00" height="115.00" fill="url(#cbc)" stroke="#3a2a00" stroke-opacity="0.28" stroke-width="0.6"/>
<text x="239.40" y="267.28" font-size="14.00" text-anchor="start">0.25</text>
<text x="239.40" y="289.28" font-size="14.00" text-anchor="start">0.20</text>
<text x="239.40" y="311.28" font-size="14.00" text-anchor="start">0.15</text>
<text x="239.40" y="333.28" font-size="14.00" text-anchor="start">0.10</text>
<text x="239.40" y="355.28" font-size="14.00" text-anchor="start">0.05</text>
<text x="239.40" y="377.28" font-size="14.00" text-anchor="start">0</text></g>
<g><rect x="328.70" y="240.10" width="154.80" height="153.80" fill="#fff" stroke="#d8d7dc" stroke-width="1.25"/>
<clipPath id="cld"><rect x="331.60" y="243.00" width="149.00" height="148.00"/></clipPath>
<g clip-path="url(#cld)"><rect x="327.60" y="239.00" width="157.00" height="156.00" fill="url(#gd)" filter="url(#soft)"/></g>
<text x="331.90" y="234.50" font-size="14.80" text-anchor="middle"><tspan font-size="16.0" dy="1.9">−</tspan><tspan dy="-1.9" dx="0.9">10</tspan></text>
<text x="406.10" y="234.50" font-size="14.80" text-anchor="middle">0</text>
<text x="481.60" y="234.50" font-size="14.80" text-anchor="middle">10</text>
<text x="331.90" y="409.90" font-size="14.80" text-anchor="middle"><tspan font-size="16.0" dy="1.9">−</tspan><tspan dy="-1.9" dx="0.9">10</tspan></text>
<text x="406.10" y="409.90" font-size="14.80" text-anchor="middle">0</text>
<text x="481.60" y="409.90" font-size="14.80" text-anchor="middle">10</text>
<text x="326.40" y="248.15" font-size="14.80" text-anchor="end">10</text>
<text x="326.40" y="322.25" font-size="14.80" text-anchor="end">0</text>
<text x="326.40" y="396.45" font-size="14.80" text-anchor="end"><tspan font-size="16.0" dy="1.9">−</tspan><tspan dy="-1.9" dx="0.9">10</tspan></text>
<text x="486.20" y="248.15" font-size="14.80" text-anchor="start">10</text>
<text x="486.20" y="322.25" font-size="14.80" text-anchor="start">0</text>
<text x="486.20" y="396.45" font-size="14.80" text-anchor="start"><tspan font-size="16.0" dy="1.9">−</tspan><tspan dy="-1.9" dx="0.9">10</tspan></text>
<g transform="translate(401.50 428.50)" font-size="15.50"><text x="-22.3" y="0" font-style="italic">x</text><text transform="translate(-13.6 1.1) scale(0.80 1)" font-size="21.60">[</text><text x="4.5" y="0" text-anchor="middle">mm</text><text transform="translate(17.7 1.1) scale(0.80 1)" font-size="21.60">]</text></g>
<g transform="translate(310.20 321.00) rotate(-90)" font-size="15.50"><text x="-22.3" y="0" font-style="italic">y</text><text transform="translate(-13.6 1.1) scale(0.80 1)" font-size="21.60">[</text><text x="4.5" y="0" text-anchor="middle">mm</text><text transform="translate(17.7 1.1) scale(0.80 1)" font-size="21.60">]</text></g>
<text x="284.80" y="245.60" font-size="18.50" text-anchor="start">(d)</text>
<rect x="502.40" y="256.40" width="8.00" height="116.60" fill="url(#cbd)" stroke="#3a2a00" stroke-opacity="0.28" stroke-width="0.6"/>
<text x="513.60" y="273.08" font-size="14.00" text-anchor="start">0.15</text>
<text x="513.60" y="307.78" font-size="14.00" text-anchor="start">0.10</text>
<text x="513.60" y="342.58" font-size="14.00" text-anchor="start">0.05</text>
<text x="513.60" y="377.28" font-size="14.00" text-anchor="start">0</text></g>
</svg>
</body>
</html>
